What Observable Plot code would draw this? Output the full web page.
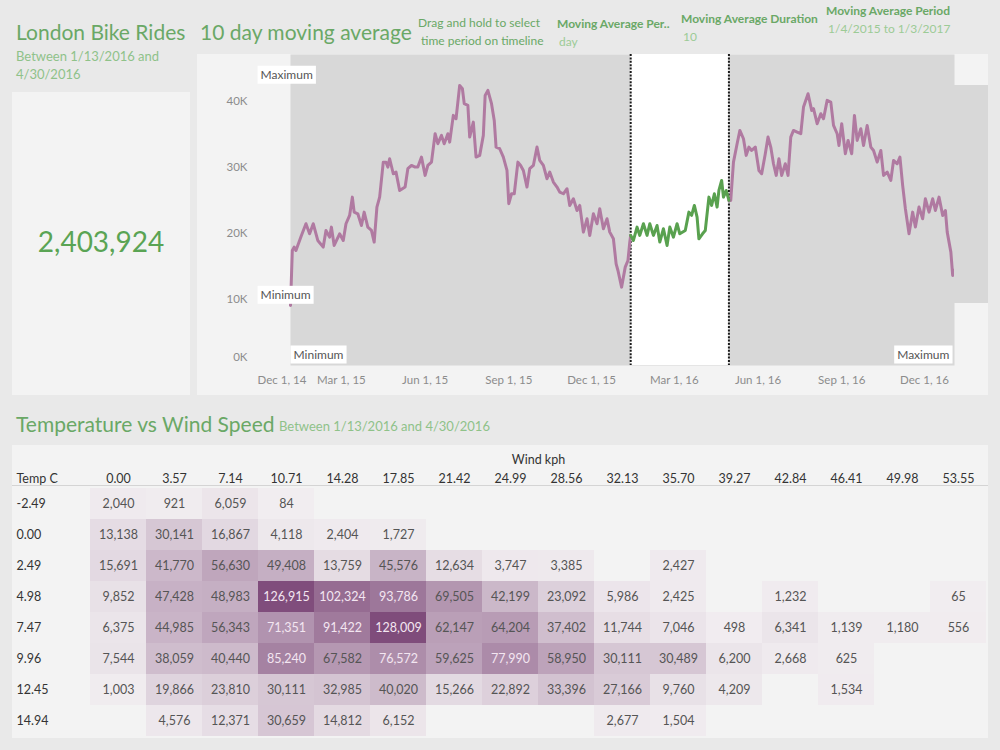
<!DOCTYPE html>
<html>
<head>
<meta charset="utf-8">
<script src="https://cdn.jsdelivr.net/npm/d3@7"></script>
<script src="https://cdn.jsdelivr.net/npm/@observablehq/plot@0.6"></script>
<style>
html,body{margin:0;padding:0}
body{width:1000px;height:750px;background:#e9e9e9;position:relative;overflow:hidden;font-family:Lato,"Open Sans",sans-serif}
.panel{position:absolute;background:#f3f3f3}
#overlay{position:absolute;left:0;top:0;pointer-events:none}
svg text{font-family:Lato,"Open Sans",sans-serif}
</style>
</head>
<body>
<div class="panel" style="left:12px;top:92px;width:178px;height:303px"></div>
<div class="panel" id="linePanel" style="left:197px;top:54px;width:791px;height:341px"></div>
<div class="panel" style="left:954px;top:85px;width:34px;height:218px;background:#d8d8d8"></div>
<div class="panel" id="heatPanel" style="left:12px;top:445px;width:976px;height:293px"></div>
<div style="position:absolute;left:12px;top:485px;width:976px;height:1px;background:#d4d4d4"></div>
<svg id="overlay" width="1000" height="750">
  <text x="16" y="40" font-size="21" fill="#6aa866">London Bike Rides</text>
  <text x="16" y="61" font-size="13" fill="#8fc289">Between 1/13/2016 and</text>
  <text x="16" y="79" font-size="13" fill="#8fc289">4/30/2016</text>
  <text x="200" y="40" font-size="21" fill="#6aa866">10 day moving average</text>
  <text x="418" y="27" font-size="12" fill="#6aa866">Drag and hold to select</text>
  <text x="421" y="45" font-size="12" fill="#6aa866">time period on timeline</text>
  <text x="557" y="28" font-size="12" font-weight="bold" fill="#6aa866">Moving Average Per..</text>
  <text x="559" y="46" font-size="12" fill="#9ccb96">day</text>
  <text x="681" y="23" font-size="12" font-weight="bold" fill="#6aa866">Moving Average Duration</text>
  <text x="683" y="41" font-size="12" fill="#9ccb96">10</text>
  <text x="826" y="15" font-size="12" font-weight="bold" fill="#6aa866">Moving Average Period</text>
  <text x="828" y="33" font-size="12" fill="#9ccb96">1/4/2015 to 1/3/2017</text>
  <text x="101" y="252" font-size="28" fill="#5aa454" text-anchor="middle">2,403,924</text>
  <text x="16" y="432" font-size="21" fill="#6aa866">Temperature vs Wind Speed</text>
  <text x="279" y="431" font-size="13" fill="#8fc289">Between 1/13/2016 and 4/30/2016</text>
</svg>
<script>
// ---------- line chart data (10 day moving average of rides) ----------
const startDay = "2015-01-04";
const axisEndDay = 730; // 1/3/2017
const dayIndex = [
  0,2,4,6,12,17,21,25,30,36,39,43,45,48,54,58,61,65,68,70,
  74,78,81,85,89,92,95,98,102,105,107,109,113,116,120,126,129,133,137,140,
  144,148,151,155,159,162,166,169,173,175,179,182,186,189,191,195,197,201,204,208,
  212,214,217,221,224,226,230,234,238,240,243,246,250,253,256,260,263,267,271,274,
  278,282,285,289,293,296,300,304,307,311,315,318,322,326,329,333,337,340,344,348,
  351,355,358,360,364,368,371,373,
  374,377,381,384,388,392,395,399,403,406,410,414,417,421,425,428,434,438,441,444,
  447,449,453,456,460,463,466,469,471,474,476,479,482,
  484,487,491,494,498,501,504,507,511,515,518,522,525,528,531,534,537,540,544,547,
  550,553,557,561,564,569,573,575,579,583,586,590,594,597,601,603,606,610,613,617,
  620,623,627,630,634,638,641,645,649,652,656,660,663,667,670,673,676,680,684,687,
  691,695,698,702,706,709,713,717,720,722,726,728,731
];
const rides = [
  9090,17420,17930,17420,19700,21470,19950,21470,18940,17930,20450,19440,20960,18180,19950,18940,21470,22730,25500,23230,
  22980,21210,23230,20960,20450,18690,23990,25500,30800,30800,30050,31310,29040,29290,26510,27020,29800,30300,30050,30050,
  31560,28790,30300,30800,35100,33590,34850,33590,35100,33830,37880,37370,42420,41920,39650,39390,34590,36860,31560,31820,
  34850,40910,41660,39650,37120,33080,32830,31560,29540,24500,26010,26010,30800,30300,29540,27020,29800,30300,33080,31060,
  30300,28280,29290,27780,27020,26260,26010,26770,24240,25250,23480,24240,20200,22220,19700,22980,21470,23740,20710,22220,
  20200,19190,15400,14390,11870,14900,15910,18690,
  19700,18940,20960,19700,21470,19700,21470,19700,21210,18690,20710,18180,20960,19440,21470,19950,20450,23230,22730,24240,
  22470,19190,19950,20450,25500,24240,26010,23990,26510,28030,25500,26510,25000,
  25000,30800,33590,35600,34340,31820,33080,32570,33080,29540,29040,32070,34590,33080,30550,28790,31310,28790,30550,28790,
  34590,35600,35350,35100,39140,41160,38630,38890,36620,38130,37370,40150,39890,36360,35100,33330,36620,32070,34090,32070,
  37880,34090,35860,33330,36360,33080,32570,30800,32570,28790,29290,28030,31060,30550,31560,27270,23740,19950,23230,20960,
  23990,22220,25250,23230,25250,23480,25500,22730,23480,20200,17170,13640,14650
];
const selectionStartDay = 374; // 1/13/2016
const selectionEndDay = 482;   // 4/30/2016
const xTickDates = ["2014-12-01","2015-03-01","2015-06-01","2015-09-01","2015-12-01","2016-03-01","2016-06-01","2016-09-01","2016-12-01"];
const xTickLabels = ["Dec 1, 14","Mar 1, 15","Jun 1, 15","Sep 1, 15","Dec 1, 15","Mar 1, 16","Jun 1, 16","Sep 1, 16","Dec 1, 16"];
const yTicks = [0,10000,20000,30000,40000];
const yTickLabels = ["0K","10K","20K","30K","40K"];

// ---------- heatmap data ----------
const windKph = ["0.00","3.57","7.14","10.71","14.28","17.85","21.42","24.99","28.56","32.13","35.70","39.27","42.84","46.41","49.98","53.55"];
const tempC = ["-2.49","0.00","2.49","4.98","7.47","9.96","12.45","14.94"];
const ridesByTemp = [
  [2040,921,6059,84,null,null,null,null,null,null,null,null,null,null,null,null],
  [13138,30141,16867,4118,2404,1727,null,null,null,null,null,null,null,null,null,null],
  [15691,41770,56630,49408,13759,45576,12634,3747,3385,null,2427,null,null,null,null,null],
  [9852,47428,48983,126915,102324,93786,69505,42199,23092,5986,2425,null,1232,null,null,65],
  [6375,44985,56343,71351,91422,128009,62147,64204,37402,11744,7046,498,6341,1139,1180,556],
  [7544,38059,40440,85240,67582,76572,59625,77990,58950,30111,30489,6200,2668,625,null,null],
  [1003,19866,23810,30111,32985,40020,15266,22892,33396,27166,9760,4209,null,1534,null,null],
  [null,4576,12371,30659,14812,6152,null,null,null,2677,1504,null,null,null,null,null]
];

// ---------- line chart ----------
const DAY = 864e5;
const t0 = new Date(startDay + "T00:00:00Z");
const toDate = d => new Date(t0.getTime() + d * DAY);
const pts = dayIndex.map((d, i) => ({day: d, date: toDate(d), value: rides[i]}));
const before = pts.filter(p => p.day <= selectionStartDay);
const selected = pts.filter(p => p.day >= selectionStartDay && p.day <= selectionEndDay);
const after = pts.filter(p => p.day >= selectionEndDay);
const maxP = pts.reduce((a, b) => b.value > a.value ? b : a);
const minP = pts.reduce((a, b) => b.value < a.value ? b : a);
const yMax = 47100;
const pink = "#b07aa1", green = "#59a14f";
const tickObjs = xTickDates.map((s, i) => ({date: new Date(s + "T00:00:00Z"), label: xTickLabels[i], first: i === 0}));
const yObjs = yTicks.map((v, i) => ({v, label: yTickLabels[i]}));
const lastDate = pts[pts.length - 1].date;

const line = Plot.plot({
  width: 791, height: 341,
  marginLeft: 93, marginRight: 34, marginTop: 0, marginBottom: 30,
  x: {type: "utc", domain: [toDate(0), toDate(axisEndDay)], axis: null},
  y: {domain: [0, yMax], axis: null},
  style: {background: "transparent", fontFamily: "Lato, sans-serif", overflow: "visible"},
  marks: [
    Plot.frame({fill: "#d8d8d8", stroke: "none"}),
    Plot.rect([{a: toDate(selectionStartDay), b: toDate(selectionEndDay)}], {x1: "a", x2: "b", y1: () => 0, y2: () => yMax, fill: "#ffffff"}),
    Plot.ruleX([toDate(selectionStartDay), toDate(selectionEndDay)], {stroke: "#1a1a1a", strokeWidth: 2, strokeDasharray: "2,1.4"}),
    Plot.line(before, {x: "date", y: "value", stroke: pink, strokeWidth: 3}),
    Plot.line(after, {x: "date", y: "value", stroke: pink, strokeWidth: 3}),
    Plot.line(selected, {x: "date", y: "value", stroke: green, strokeWidth: 3}),
    Plot.text(yObjs.filter(d => d.v > 0), {y: "v", text: "label", frameAnchor: "left", textAnchor: "end", dx: -43, fill: "#8c8c8c", fontSize: 11.5}),
    Plot.text(yObjs.filter(d => d.v === 0), {y: "v", text: "label", frameAnchor: "left", textAnchor: "end", dx: -43, dy: -8, fill: "#8c8c8c", fontSize: 11.5}),
    Plot.text(tickObjs.filter(d => d.first), {x: "date", text: "label", frameAnchor: "bottom", textAnchor: "start", dx: -2, dy: 18, fill: "#8c8c8c", fontSize: 11.5}),
    Plot.text(tickObjs.filter(d => !d.first), {x: "date", text: "label", frameAnchor: "bottom", dy: 18, fill: "#8c8c8c", fontSize: 11.5}),
    Plot.text([maxP], {x: () => tickObjs[0].date, y: "value", text: () => "Maximum", textAnchor: "start", dx: 1, dy: -10, fill: "#555", fontSize: 12}),
    Plot.text([minP], {x: () => tickObjs[0].date, y: "value", text: () => "Minimum", textAnchor: "start", dx: 1, dy: -10, fill: "#555", fontSize: 12}),
    Plot.text([toDate(0)], {x: d => d, frameAnchor: "bottom", text: () => "Minimum", textAnchor: "start", dx: 3, dy: -6.5, fill: "#555", fontSize: 12}),
    Plot.text([lastDate], {x: d => d, frameAnchor: "bottom", text: () => "Maximum", textAnchor: "end", dx: -6, dy: -6.5, fill: "#555", fontSize: 12})
  ]
});
document.getElementById("linePanel").appendChild(line);
d3.select(line).selectAll("text").each(function () {
  const t = this.textContent;
  if (t !== "Maximum" && t !== "Minimum") return;
  const b = this.getBBox();
  const r = document.createElementNS("http://www.w3.org/2000/svg", "rect");
  r.setAttribute("x", b.x - 3); r.setAttribute("y", b.y - 1.5);
  r.setAttribute("width", b.width + 6); r.setAttribute("height", b.height + 3);
  r.setAttribute("fill", "#ffffff");
  const tr = this.getAttribute("transform");
  if (tr) r.setAttribute("transform", tr);
  this.parentNode.insertBefore(r, this);
});

// ---------- heatmap ----------
const cells = [];
tempC.forEach((t, i) => windKph.forEach((w, j) => {
  const v = ridesByTemp[i][j];
  if (v != null) cells.push({t, w, v});
}));
const fmt = d3.format(",");
const heat = Plot.plot({
  width: 976, height: 293,
  marginTop: 40, marginLeft: 78, marginRight: 2, marginBottom: 0,
  x: {domain: windKph, padding: 0, axis: null},
  y: {domain: tempC, padding: 0, axis: null},
  color: {type: "linear", domain: [0, 128009], range: ["#f1edf0", "#7f4c7b"]},
  style: {background: "transparent", fontFamily: "Lato, sans-serif", overflow: "visible"},
  marks: [
    Plot.cell(cells, {x: "w", y: "t", fill: "v"}),
    Plot.text(cells.filter(d => d.v <= 70000), {x: "w", y: "t", text: d => fmt(d.v), fill: "#555", fontSize: 12.5}),
    Plot.text(cells.filter(d => d.v > 70000), {x: "w", y: "t", text: d => fmt(d.v), fill: "#f3e6f1", fontSize: 12.5}),
    Plot.text(windKph, {x: d => d, text: d => d, frameAnchor: "top", dy: -11, fill: "#333", fontSize: 12.5}),
    Plot.text(["Wind kph"], {text: d => d, frameAnchor: "top", dy: -30, fill: "#333", fontSize: 12.5}),
    Plot.text(["Temp C"], {text: d => d, frameAnchor: "top-left", textAnchor: "start", dx: -74, dy: -11, fill: "#333", fontSize: 12.5}),
    Plot.text(tempC, {y: d => d, text: d => d, frameAnchor: "left", textAnchor: "start", dx: -74, fill: "#333", fontSize: 12.5})
  ]
});
document.getElementById("heatPanel").appendChild(heat);
</script>
</body>
</html>
